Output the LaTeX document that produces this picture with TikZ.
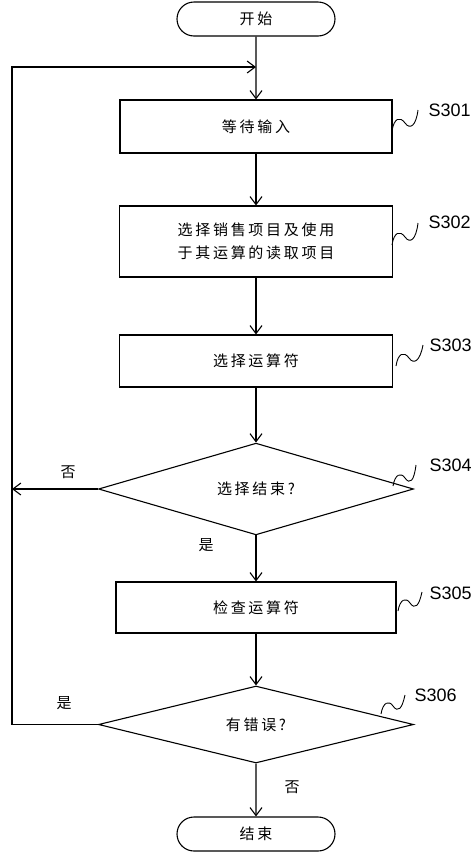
\documentclass[tikz,border=0pt]{standalone}
\usepackage{fontspec}
\setmainfont{Liberation Sans}
\newfontfamily\cjk[LetterSpace=18]{Noto Sans CJK SC}
\usetikzlibrary{shapes.geometric,shapes.misc,arrows.meta}
\begin{document}
\begin{tikzpicture}[x=1pt,y=-1pt,line width=1.1pt,
  >={Straight Barb[length=8pt,width=12pt,line width=1.1pt]},
  cjkfont/.style={font=\cjk\fontsize{15}{23}\selectfont},
  stepbox/.style={draw,rectangle,inner sep=0pt,cjkfont,align=center},
  term/.style={draw,rounded rectangle,inner sep=0pt,minimum width=158pt,minimum height=34pt,cjkfont},
  dia/.style={draw,diamond,inner sep=0pt,cjkfont},
  lab/.style={anchor=west,inner sep=0pt,font=\fontsize{18}{20}\selectfont},
  sq/.style={line width=0.9pt},
  yn/.style={cjkfont,anchor=center}]
\useasboundingbox (0,0) rectangle (474,852);
\node[term] (start) at (256,19) {开始};
\coordinate (loop) at (256,67);
\node[stepbox,minimum width=272pt,minimum height=53pt] (s301) at (256,126.5) {等待输入};
\node[stepbox,minimum width=273pt,minimum height=71pt] (s302) at (256,241.5) {选择销售项目及使用\\于其运算的读取项目};
\node[stepbox,minimum width=273pt,minimum height=52pt] (s303) at (256,361) {选择运算符};
\node[dia,minimum width=315pt,minimum height=86pt] (s304) at (256,489) {选择结束?};
\node[stepbox,minimum width=280pt,minimum height=51pt] (s305) at (256,607.5) {检查运算符};
\node[dia,minimum width=315pt,minimum height=77pt] (s306) at (256,724.5) {有错误?};
\node[term] (end) at (256,834) {结束};
\coordinate (lt) at (12,67);
\coordinate (lm) at (12,489);
\coordinate (lb) at (12,724.5);
% connectors
\draw[->] (start) -- (s301);
\draw[->] (s301) -- (s302);
\draw[->] (s302) -- (s303);
\draw[->] (s303) -- (s304);
\draw[->] (s304) -- (s305);
\draw[->] (s305) -- (s306);
\draw[->] (s306) -- (end);
\draw[->] (s304.west) -- (lm);
\draw[->] (s306.west) -- (lb) -- (lt) -- (loop);
% yes/no labels
\node[yn] (n1) at (68,472) {否};
\node[yn] (y1) at (206,545) {是};
\node[yn] (y2) at (64,703) {是};
\node[yn] (n2) at (292,787) {否};
% step labels
\node[lab] (l1) at (428,110) {S301};
\node[lab] (l2) at (428,222) {S302};
\node[lab] (l3) at (429,345) {S303};
\node[lab] (l4) at (429,465) {S304};
\node[lab] (l5) at (429,593) {S305};
\node[lab] (l6) at (414,695) {S306};
% squiggles
\draw[sq] (392,131) .. controls (394,118) and (400,116) .. (405,123) .. controls (410,130) and (416,126) .. (418,110);
\draw[sq] (392,245) .. controls (394,232) and (400,230) .. (405,237) .. controls (410,244) and (416,240) .. (418,223);
\draw[sq] (396,366) .. controls (398,353) and (404,351) .. (409,358) .. controls (414,365) and (420,361) .. (423,345);
\draw[sq] (393,486) .. controls (395,474) and (401,472) .. (405,478) .. controls (410,485) and (414,481) .. (416,465);
\draw[sq] (398,611) .. controls (400,599) and (406,597) .. (410,603) .. controls (415,610) and (419,606) .. (422,592);
\draw[sq] (381,714) .. controls (383,702) and (389,700) .. (393,706) .. controls (398,713) and (402,709) .. (405,695);
\end{tikzpicture}
\end{document}
